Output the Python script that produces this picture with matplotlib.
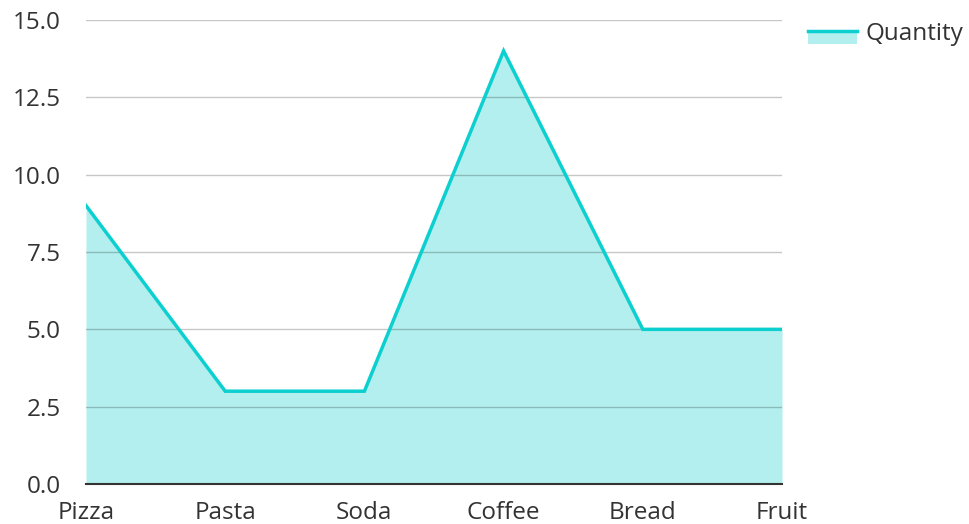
import matplotlib
matplotlib.use("Agg")
import matplotlib.pyplot as plt
from matplotlib.lines import Line2D
from matplotlib.patches import Rectangle
from matplotlib.legend_handler import HandlerBase

categories = ["Pizza", "Pasta", "Soda", "Coffee", "Bread", "Fruit"]
quantity = [9, 3, 3, 14, 5, 5]
yticks = [0.0, 2.5, 5.0, 7.5, 10.0, 12.5, 15.0]

plt.rcParams['font.family'] = ['Open Sans', 'DejaVu Sans']
line_c = "#0ccfcf"
fill_c = "#b2efee"
text_c = "#333333"
fs = 17.5

fig = plt.figure(figsize=(9.7, 5.24), dpi=100)
ax = fig.add_axes([86/970, 40/524, (782-86)/970, 464/524])
x = list(range(len(categories)))
ax.fill_between(x, quantity, 0, color=fill_c, lw=0, zorder=1)
ax.plot(x, quantity, color=line_c, lw=2.5, zorder=3, solid_joinstyle='miter')
ax.set_xlim(0, len(categories) - 1)
ax.set_ylim(0, 15)
ax.set_yticks(yticks)
ax.set_yticklabels([f"{v:.1f}" for v in yticks])
ax.set_xticks(x)
ax.set_xticklabels(categories)
for t in yticks[1:]:
    ax.axhline(t, color="#000000", alpha=0.22, lw=1, zorder=2)
for s in ["top", "right", "left"]:
    ax.spines[s].set_visible(False)
ax.spines["bottom"].set_color(text_c)
ax.spines["bottom"].set_linewidth(1.5)
ax.spines["bottom"].set_zorder(4)
ax.tick_params(axis="both", length=0, labelsize=fs, colors=text_c)
ax.tick_params(axis="y", pad=18)
ax.tick_params(axis="x", pad=12)


class AreaHandler(HandlerBase):
    def create_artists(self, legend, orig_handle, xdescent, ydescent, width, height, fontsize, trans):
        top = height * 0.5
        bottom = -height * 0.26
        rect = Rectangle((-xdescent, bottom - ydescent), width, top - bottom,
                         facecolor=fill_c, edgecolor='none', transform=trans)
        ln = Line2D([-xdescent, -xdescent + width], [top - ydescent, top - ydescent],
                    color=line_c, lw=2.5, transform=trans)
        return [rect, ln]


proxy = Rectangle((0, 0), 1, 1)
leg = fig.legend([proxy], ["Quantity"], loc="center left", bbox_to_anchor=(808/970, 1 - 34/524),
                 frameon=False, fontsize=fs, handlelength=2.0, handletextpad=0.37,
                 borderpad=0, borderaxespad=0,
                 handler_map={Rectangle: AreaHandler()})
for t in leg.get_texts():
    t.set_color(text_c)

fig.savefig("out.png", dpi=100, facecolor="white")
